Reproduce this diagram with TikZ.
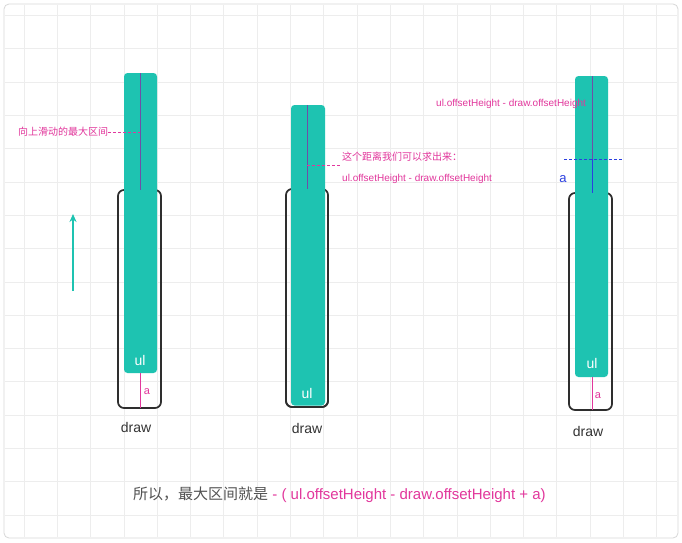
\documentclass[tikz,border=0pt]{standalone}
\usepackage{fontspec}
\usetikzlibrary{arrows.meta}
\setmainfont{Liberation Sans}
\newfontfamily\cjk{Noto Sans CJK SC}
\definecolor{barteal}{HTML}{1EC3B1}
\definecolor{lblpink}{HTML}{E2379C}
\definecolor{linepurple}{HTML}{6E4FA8}
\definecolor{lineblue}{HTML}{2B3FE0}
\definecolor{gridc}{HTML}{EDEDED}
\definecolor{framec}{HTML}{D8D8D8}
\definecolor{txtgray}{HTML}{333333}
\begin{document}
\begin{tikzpicture}[x=1pt,y=-1pt,
  gridline/.style={draw=gridc,line width=0.7pt},
  ulbar/.style={fill=barteal,rounded corners=3.5pt},
  drawbox/.style={draw=txtgray!90!black,line width=1.7pt,rounded corners=6pt},
  midline/.style={draw=linepurple,line width=0.8pt},
  aline/.style={draw=lblpink,line width=1pt},
  pinkdash/.style={draw=lblpink,dash pattern=on 3pt off 2pt,line width=0.9pt},
  bluedash/.style={draw=lineblue,dash pattern=on 3pt off 2pt,line width=0.9pt},
  pinklbl/.style={text=lblpink,font=\cjk\fontsize{10}{12}\selectfont,inner sep=0pt,anchor=west},
  ullbl/.style={text=white,font=\fontsize{14}{16}\selectfont,inner sep=0pt},
  drawlbl/.style={text=txtgray,font=\fontsize{14}{16}\selectfont,inner sep=0pt},
  albl/.style={text=lblpink,font=\fontsize{11}{13}\selectfont,inner sep=0pt}]
\useasboundingbox (0,0) rectangle (682,542);
\fill[white] (0,0) rectangle (682,542);
% grid
\begin{scope}
\clip (5,5) rectangle (677,537);
\foreach \i in {0,...,19} \draw[gridline] ({24+33.3*\i},5) -- ({24+33.3*\i},537);
\foreach \j in {0,...,15} \draw[gridline] (5,{15.5+33.3*\j}) -- (677,{15.5+33.3*\j});
\end{scope}
\draw[framec,line width=0.8pt,rounded corners=5pt] (4,4) rectangle (678,538);

% ---------- column 1 ----------
\draw[drawbox] (118,190) rectangle (161,408);
\fill[ulbar] (124,73) rectangle (157,373);
\coordinate (c1top) at (140,73);
\coordinate (c1boxtop) at (140,190);
\coordinate (c1ulbot) at (140,373);
\coordinate (c1boxbot) at (140,408);
\draw[midline] (c1top) -- (c1boxtop);
\draw[aline] (c1ulbot) -- (c1boxbot);
\node[ullbl] (ul1) at (140,360) {ul};
\node[albl] (a1) at (147,392) {a};
\node[drawlbl] (draw1) at (136,427) {draw};
\node[pinklbl] (lbl1) at (18,132) {向上滑动的最大区间};
\coordinate (c1mid) at (140,132);
\draw[pinkdash] (lbl1.east) -- (c1mid);
\coordinate (arrb) at (73,291);
\coordinate (arrt) at (73,214);
\draw[barteal,line width=1.2pt,-{Stealth[length=8pt,width=7pt]}] (arrb) -- (arrt);

% ---------- column 2 ----------
\draw[drawbox] (286,189) rectangle (328,407);
\fill[ulbar] (291,105) rectangle (325,405.5);
\draw[drawbox] (286,380) -- (286,407) -- (328,407) -- (328,380);
\coordinate (c2top) at (307,105);
\coordinate (c2boxtop) at (307,189);
\draw[midline] (c2top) -- (c2boxtop);
\node[ullbl] (ul2) at (307,393) {ul};
\node[drawlbl] (draw2) at (307,428) {draw};
\coordinate (c2mid) at (307,165);
\coordinate (c2dashend) at (340,165);
\draw[pinkdash] (c2mid) -- (c2dashend);
\node[pinklbl] (lbl2a) at (342,157) {这个距离我们可以求出来：};
\node[pinklbl,font=\fontsize{10}{12}\selectfont] (lbl2b) at (342,179) {ul.offsetHeight - draw.offsetHeight};

% ---------- column 3 ----------
\draw[drawbox] (569,193) rectangle (612,410);
\fill[ulbar] (575,76) rectangle (608,377);
\coordinate (c3top) at (592,76);
\coordinate (c3a) at (592,159);
\coordinate (c3boxtop) at (592,193);
\coordinate (c3ulbot) at (592,377);
\coordinate (c3boxbot) at (592,410);
\draw[midline] (c3top) -- (c3a);
\draw[lineblue,line width=0.9pt] (c3a) -- (c3boxtop);
\coordinate (c3dl) at (564,159);
\coordinate (c3dr) at (623,159);
\draw[bluedash] (c3dl) -- (c3dr);
\draw[aline] (c3ulbot) -- (c3boxbot);
\node[ullbl] (ul3) at (592,363) {ul};
\node[albl] (a3) at (598,396) {a};
\node[drawlbl] (draw3) at (588,431) {draw};
\node[text=lineblue,font=\fontsize{13}{15}\selectfont,inner sep=0pt] (ablue) at (563,179) {a};
\node[pinklbl,font=\fontsize{10}{12}\selectfont] (lbl3) at (436,104) {ul.offsetHeight - draw.offsetHeight};

% ---------- bottom ----------
\node[inner sep=0pt,anchor=west,font=\fontsize{15}{18}\selectfont] (concl) at (133,495)
  {\textcolor{txtgray!85}{\cjk 所以，最大区间就是} \textcolor{lblpink}{- ( ul.offsetHeight - draw.offsetHeight + a)}};
\end{tikzpicture}
\end{document}
